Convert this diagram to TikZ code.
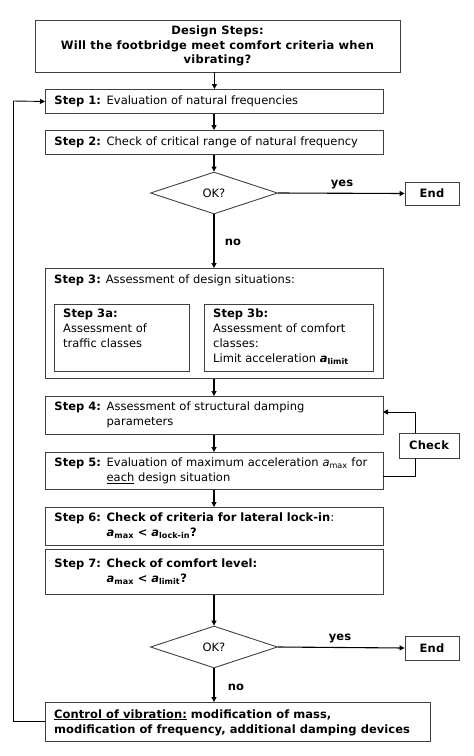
\documentclass[tikz,border=0pt]{standalone}
\usepackage{fontspec}
\setmainfont{DejaVu Sans}[ItalicFont=DejaVu Sans Oblique, BoldFont=DejaVu Sans Bold, BoldItalicFont=DejaVu Sans Bold Oblique]
\usetikzlibrary{shapes.geometric,arrows.meta}
\newcommand\Bs[1]{{\bfseries\addfontfeature{LetterSpace=0.5}#1}}
\newcommand\Bt[1]{{\bfseries\addfontfeature{LetterSpace=2}#1}}
\newcommand\fs{\fontsize{11.5}{15}\selectfont}
\newcommand\sub[1]{\textsubscript{#1}}
\begin{document}
\begin{tikzpicture}[x=1pt,y=-1pt,
  box/.style={draw=black!75, line width=0.9pt, inner sep=0pt, font=\fs},
  thinbox/.style={draw=black!75, line width=0.7pt, inner sep=0pt},
  stepbox/.style={box, anchor=north west, text width=320pt, inner xsep=9pt, align=left},
  dia/.style={draw=black!75, line width=0.9pt, diamond, aspect=3, minimum width=127pt, minimum height=42pt, inner sep=0pt, font=\fs},
  txt/.style={inner sep=0pt, font=\fs, align=left},
  conn/.style={draw=black, line width=1.1pt, -{Triangle[length=5pt,width=5pt]}},
  line/.style={draw=black, line width=1.1pt}]
\useasboundingbox (0,0) rectangle (474,756);

\node[box, minimum width=365pt, minimum height=52pt, align=center, font=\fontsize{11.5}{14.5}\selectfont] (title) at (217.5,46)
  {\Bt{Design Steps:}\\\Bt{Will the footbridge meet comfort criteria when}\\\Bt{vibrating?}};

\node[stepbox, minimum height=24pt] (step1) at (45,89) {\mbox{\Bs{Step 1:} Evaluation of natural frequencies}};
\node[stepbox, minimum height=24pt] (step2) at (45,130) {\mbox{\Bs{Step 2:} Check of critical range of natural frequency}};

\node[dia] (d1) at (214,193) {OK?};
\node[box, minimum width=54pt, minimum height=23pt] (end1) at (432,193.5) {\Bt{End}};

\node[box, anchor=north west, minimum width=338pt, minimum height=110pt] (step3) at (45,268) {};
\node[txt, anchor=base west] (step3t) at (54,283) {\Bs{Step 3:} Assessment of design situations:};
\node[thinbox, anchor=north west, minimum width=135pt, minimum height=67pt] (s3a) at (54,304) {};
\node[txt, anchor=north west] (s3at) at (63,309) {\Bs{Step 3a:}\\Assessment of\\traffic classes};
\node[thinbox, anchor=north west, minimum width=169pt, minimum height=67pt] (s3b) at (204,304) {};
\node[txt, anchor=north west] (s3bt) at (213,309) {\Bs{Step 3b:}\\Assessment of comfort\\classes:\\Limit acceleration \textbf{\textit{a}}\sub{\Bs{limit}}};

\node[stepbox, minimum height=38pt] (step4) at (45,396)
  {\begin{tabular}{@{}l@{ }l@{}}\Bs{Step 4:} & Assessment of structural damping\\ & parameters\end{tabular}};
\node[stepbox, minimum height=37pt] (step5) at (45,452)
  {\begin{tabular}{@{}l@{ }l@{}}\Bs{Step 5:} & Evaluation of maximum acceleration \textit{a}\sub{max} for\\ & \underline{each} design situation\end{tabular}};
\node[box, minimum width=60pt, minimum height=25pt] (check) at (429,445.5) {\Bt{Check}};

\node[stepbox, minimum height=38pt] (step6) at (45,507)
  {\begin{tabular}{@{}l@{ }l@{}}\Bs{Step 6:} & \Bs{Check of criteria for lateral lock-in}:\\ & \textbf{\textit{a}}\sub{\Bs{max}} \Bs{<} \textbf{\textit{a}}\sub{\Bs{lock-in}}\Bs{?}\end{tabular}};
\node[stepbox, minimum height=45pt] (step7) at (45,549)
  {\begin{tabular}{@{}l@{ }l@{}}\Bs{Step 7:} & \Bs{Check of comfort level:}\\ & \textbf{\textit{a}}\sub{\Bs{max}} \Bs{<} \textbf{\textit{a}}\sub{\Bs{limit}}\Bs{?}\end{tabular}\\[-4pt]};

\node[dia] (d2) at (214,647) {OK?};
\node[box, minimum width=54pt, minimum height=24pt] (end2) at (432,648) {\Bt{End}};

\node[box, anchor=north west, minimum width=385pt, minimum height=39pt] (ctrl) at (45,702) {};
\node[txt, anchor=west] (ctrlt) at (54,722.5)
  {\Bs{\underline{Control of vibration:} modification of mass,}\\\Bs{modification of frequency, additional damping devices}};

% labels
\node[txt] (yes1) at (342,185) {\Bs{yes}};
\node[txt] (no1) at (233,242) {\Bs{no}};
\node[txt] (yes2) at (340,639) {\Bs{yes}};
\node[txt] (no2) at (236,687) {\Bs{no}};

% connectors
\draw[conn] (step1.north |- title.south) -- (step1.north);
\draw[conn] (step1.south -| 214,0) -- (step2.north -| 214,0);
\draw[conn] (step2.south -| d1.north) -- (d1.north);
\draw[conn] (d1.east) -- (end1.west);
\draw[conn] (d1.south) -- (d1.south |- step3.north);
\draw[conn] (d1.south |- step3.south) -- (d1.south |- step4.north);
\draw[conn] (d1.south |- step4.south) -- (d1.south |- step5.north);
\draw[conn] (d1.south |- step5.south) -- (d1.south |- step6.north);
\draw[conn] (d2.north |- step7.south) -- (d2.north);
\draw[conn] (d2.east) -- (end2.west);
\draw[conn] (d2.south) -- (d2.south |- ctrl.north);

\coordinate (s5e) at (383,476);
\coordinate (s4e) at (383,412);
\coordinate (fbx) at (13,721);
\draw[line, line width=0.9pt] (s5e) -- (415,476) -- (415,458);
\draw[conn, line width=0.9pt] (415,433) -- (415,412) -- (s4e);
\draw[line, line width=0.9pt] (ctrl.west |- fbx) -- (fbx) -- (13,101);
\draw[conn, line width=0.9pt] (13,101) -- (step1.west);
\end{tikzpicture}
\end{document}
